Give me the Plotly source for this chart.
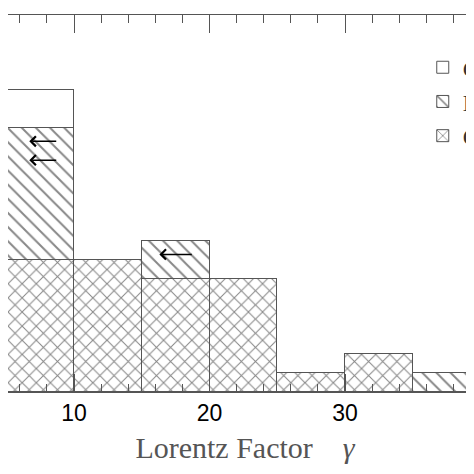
import plotly.graph_objects as go

bin_centers = [7.5, 12.5, 17.5, 22.5, 27.5, 32.5, 37.5, 42.5]
q_counts = [7, 7, 6, 6, 1, 2, 0, 0]
b_counts = [7, 0, 2, 0, 0, 0, 1, 1]
g_counts = [2, 0, 0, 0, 0, 0, 0, 0]
names = ["G", "B", "Q"]

fig = go.Figure()
line = dict(color="#555", width=1)
fig.add_bar(x=bin_centers, y=q_counts, width=5, name=names[2], marker=dict(color="white", line=line, pattern=dict(shape="x", fgcolor="#111", bgcolor="white", size=10, solidity=0.2)))
fig.add_bar(x=bin_centers, y=b_counts, width=5, name=names[1], marker=dict(color="white", line=line, pattern=dict(shape="\\", fgcolor="#111", bgcolor="white", size=10, solidity=0.2)))
fig.add_bar(x=bin_centers, y=g_counts, width=5, name=names[0], marker=dict(color="white", line=line))

arrows = [(8.8, 13.3, 6.7), (8.8, 12.3, 6.7), (18.8, 7.3, 16.3)]
for x0, y0, x1 in arrows:
    fig.add_annotation(x=x1, y=y0, ax=x0, ay=y0, axref="x", ayref="y", xref="x", yref="y",
                       showarrow=True, arrowhead=4, arrowsize=1.3, arrowwidth=1.5, arrowcolor="black", text="")

fig.update_layout(
    width=474, height=474, barmode="stack", bargap=0,
    margin=dict(l=0, r=0, t=7, b=90, autoexpand=False),
    plot_bgcolor="white", paper_bgcolor="white",
    legend=dict(x=0.875, y=0.92, xanchor="left", yanchor="top", traceorder="reversed",
                font=dict(family="Liberation Serif", size=24, color="#333"), bgcolor="rgba(0,0,0,0)",
                tracegroupgap=14, itemwidth=30),
    xaxis=dict(range=[5.13, 40.1], tickvals=[10, 20, 30, 40], ticks="inside", ticklen=18, tickcolor="#555",
               showline=True, linecolor="#555", mirror="allticks", showgrid=False, zeroline=False,
               minor=dict(dtick=2, tick0=0, ticks="inside", ticklen=8, tickcolor="#555"),
               tickfont=dict(family="Liberation Sans", size=23, color="black"),
               title=dict(text="Lorentz Factor    <i>γ</i>", font=dict(family="Liberation Serif", size=30, color="#555"), standoff=12)),
    yaxis=dict(range=[0, 20], showticklabels=False, showgrid=False, zeroline=False, showline=False),
)
fig.write_html("out.html")
